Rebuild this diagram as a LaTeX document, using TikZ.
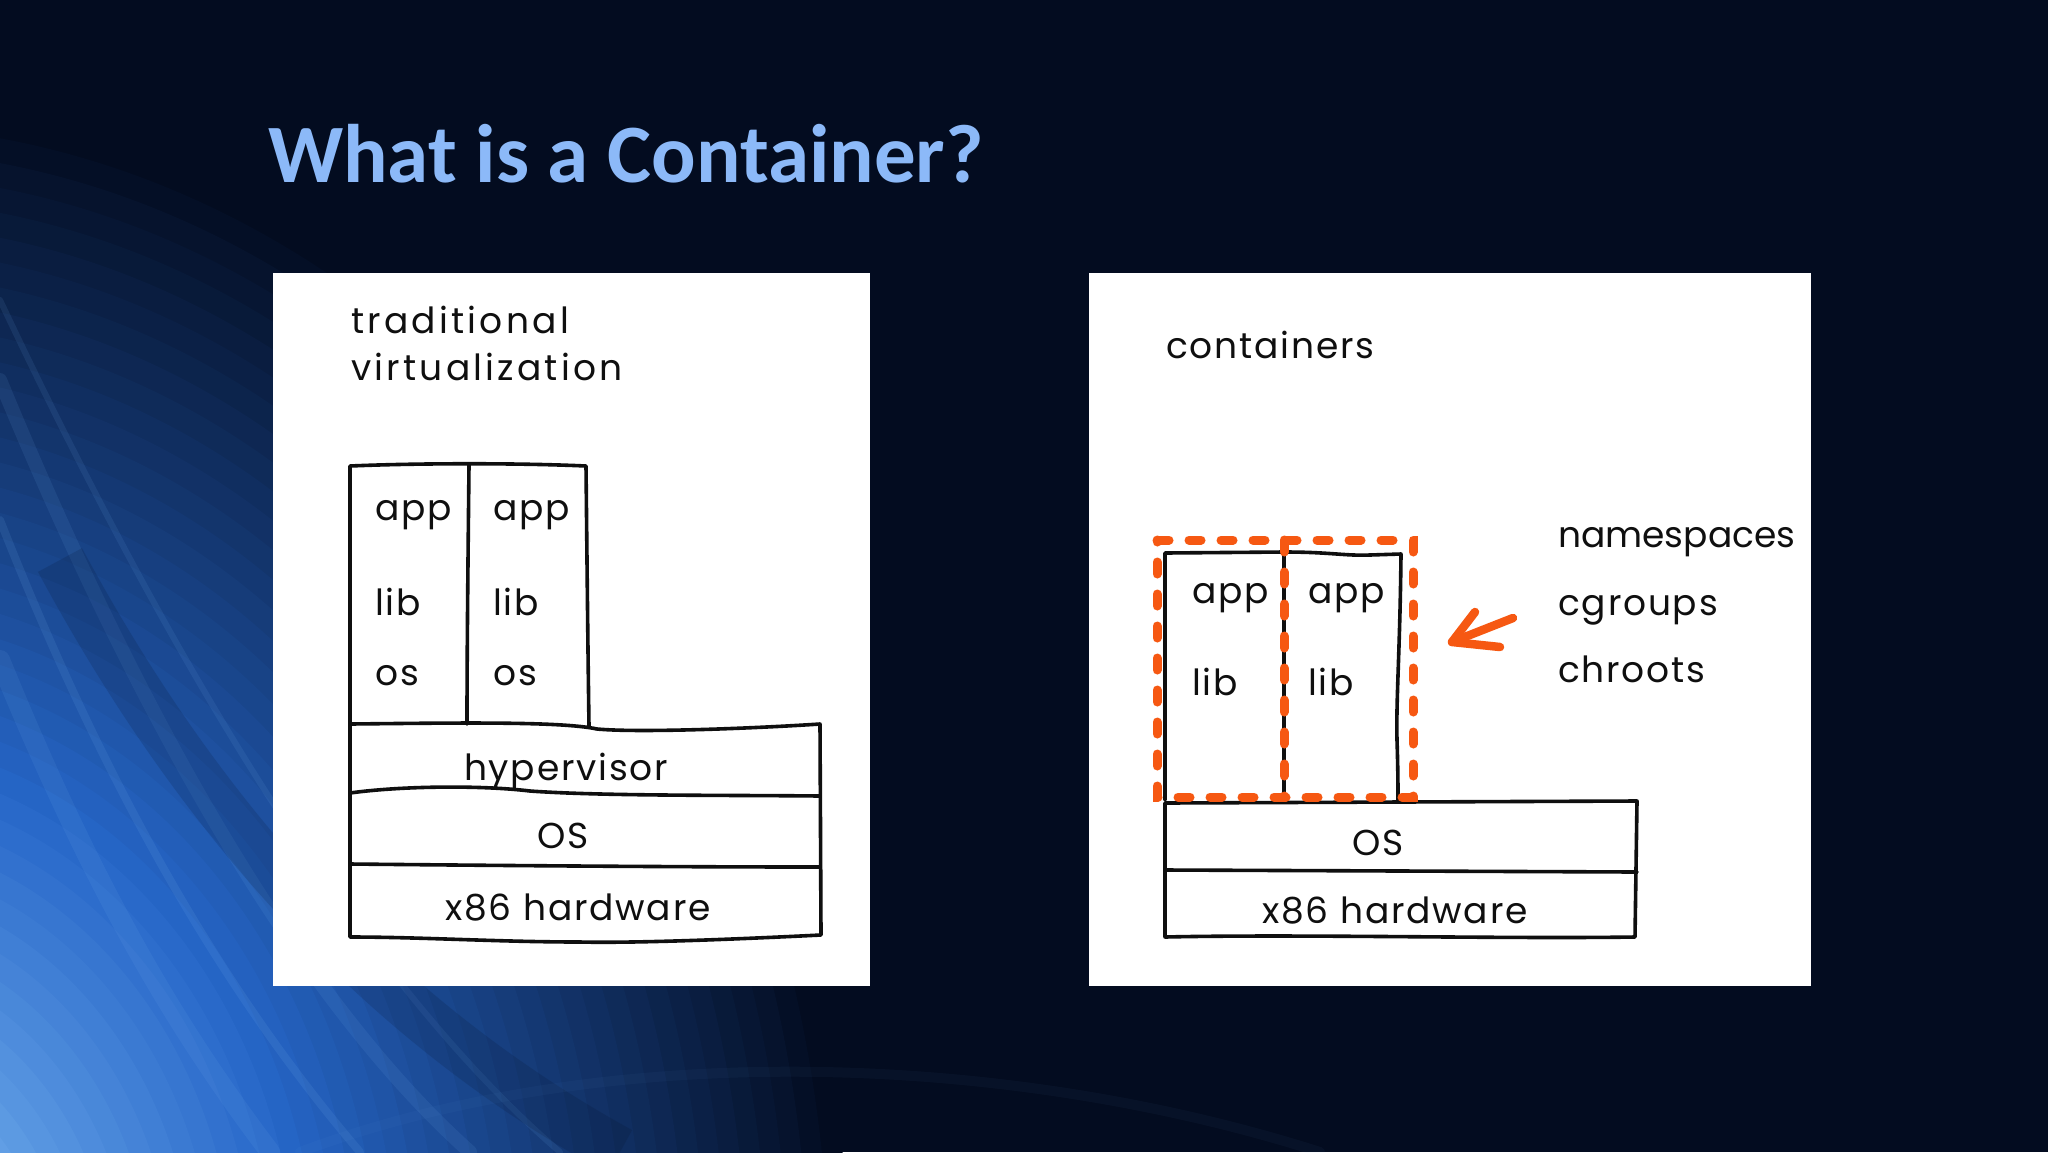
\documentclass[tikz,border=0pt]{standalone}
\usepackage{fontspec}
\setmainfont{Carlito}
\newfontfamily\hand{Poppins}[LetterSpace=5]
\newfontfamily\handwide{Poppins}[LetterSpace=9]
\newfontfamily\handtight{Poppins}
\definecolor{bg}{RGB}{3,12,32}
\definecolor{titleblue}{RGB}{140,185,248}
\definecolor{orng}{RGB}{246,88,18}
\definecolor{inkc}{RGB}{15,15,15}
\definecolor{gA}{RGB}{120,180,240}
\definecolor{gB}{RGB}{38,102,200}
\tikzset{
  ink/.style={draw=inkc, line width=3.6pt, line cap=round, line join=round},
  dashbox/.style={draw=orng, line width=9pt, line cap=round, dash pattern=on 12pt off 20pt},
  handtxt/.style={font=\hand\fontsize{36}{40}\selectfont, inner sep=0pt, text=inkc},
  handwidetxt/.style={handtxt, font=\handwide\fontsize{36}{40}\selectfont},
  handtighttxt/.style={handtxt, font=\handtight\fontsize{36}{40}\selectfont},
  arrowstroke/.style={draw=orng, line width=8.5pt, line cap=round, line join=round},
  panel/.style={fill=white},
  streak/.style={draw=gA, line cap=round}
}
\begin{document}
\begin{tikzpicture}[x=1pt,y=-1pt]
\useasboundingbox (0,0) rectangle (2048,1152);
% background
\fill[bg] (0,0) rectangle (2048,1152);
\begin{scope}
  \clip (0,0) rectangle (2048,1152);
  \foreach \i in {0,...,44}{
    \pgfmathsetmacro\t{\i/44}
    \pgfmathsetmacro\s{1-0.9*\t}
    \pgfmathsetmacro\rx{1000*\s}
    \pgfmathsetmacro\ry{1200*\s}
    \ifdim\t pt<0.6pt
      \pgfmathsetmacro\p{\t/0.6*100}
      \colorlet{ringc}{gB!\p!bg}
    \else
      \pgfmathsetmacro\p{(\t-0.6)/0.4*100}
      \colorlet{ringc}{gA!\p!gB}
    \fi
    \fill[ringc] (-150,1300) ellipse [x radius=\rx pt, y radius=\ry pt];
  }
  \draw[streak, line width=14pt, opacity=0.10] (0,380) .. controls (140,720) and (300,1000) .. (470,1152);
  \draw[streak, line width=8pt, opacity=0.12] (0,520) .. controls (110,800) and (230,1000) .. (360,1152);
  \draw[streak, line width=20pt, opacity=0.10] (0,660) .. controls (90,880) and (170,1020) .. (270,1152);
  \draw[streak, line width=6pt, opacity=0.10] (0,300) .. controls (170,660) and (360,980) .. (560,1152);
  \draw[draw=bg, line width=50pt, opacity=0.14] (60,560) .. controls (200,820) and (380,1020) .. (620,1152);
  \draw[streak, line width=10pt, opacity=0.04] (300,1152) .. controls (600,1040) and (1000,1050) .. (1320,1152);
\end{scope}

% title
\node[anchor=base west, inner sep=0pt, font=\bfseries\fontsize{83}{90}\selectfont, text=titleblue] (title) at (268,182) {What is a Container?};

% panels
\fill[panel] (273,273) rectangle (870,986);
\fill[panel] (1089,273) rectangle (1811,986);

% ===== left: traditional virtualization =====
\node[handwidetxt, anchor=base west] (trad1) at (351,333) {traditional};
\node[handwidetxt, anchor=base west] (trad2) at (351,380) {virtualization};

% VM columns
\draw[ink] (350,725) -- (350,466) .. controls (420,463) and (520,463) .. (586,466) .. controls (587,560) and (588,660) .. (589,726);
\draw[ink] (469,465) .. controls (468,560) and (467,650) .. (467,724);
% layers
\draw[ink] (350,724) .. controls (450,723) and (560,721) .. (597,729) .. controls (640,733) and (760,728) .. (820,724)
           -- (821,935) .. controls (700,941) and (620,943) .. (580,942) .. controls (500,942) and (420,937) .. (350,937) -- cycle;
\draw[ink] (350,793) .. controls (400,786) and (480,785) .. (530,791) .. controls (600,796) and (720,795) .. (820,796);
\draw[ink] (350,864) .. controls (450,865) and (650,867) .. (820,867);

\node[handtxt, anchor=base west] (appL1) at (375,520) {app};
\node[handtxt, anchor=base west] (appL2) at (493,520) {app};
\node[handtxt, anchor=base west] (libL1) at (375,615) {lib};
\node[handtxt, anchor=base west] (libL2) at (493,615) {lib};
\node[handtxt, anchor=base west] (osL1) at (375,685) {os};
\node[handtxt, anchor=base west] (osL2) at (493,685) {os};
\node[handtxt, anchor=base] (hypL) at (566,780) {hypervisor};
\node[handtxt, anchor=base] (osL) at (563,848) {OS};
\node[handtxt, anchor=base] (hwL) at (578,920) {x86 hardware};

% ===== right: containers =====
\node[handtxt, anchor=base west] (cont) at (1166,358) {containers};

% container boxes
\draw[ink] (1165,800) -- (1165,553) -- (1284,552) .. controls (1330,552) and (1345,556) .. (1370,555) -- (1401,554)
           .. controls (1400,650) and (1396,700) .. (1397,740) .. controls (1398,770) and (1398,790) .. (1398,800);
\draw[ink] (1284,552) -- (1284,800);
% OS + hardware layers
\draw[ink] (1165,803) -- (1637,801) -- (1635,937) .. controls (1500,939) and (1300,934) .. (1165,937) -- cycle;
\draw[ink] (1165,870) -- (1637,872);

% orange dashed outline
\draw[dashbox] (1157,540) -- (1413,540) -- (1413,797) -- (1157,797) -- cycle;
\draw[dashbox] (1284,540) -- (1284,797);

\node[handtxt, anchor=base west] (appR1) at (1192,603) {app};
\node[handtxt, anchor=base west] (appR2) at (1308,603) {app};
\node[handtxt, anchor=base west] (libR1) at (1192,695) {lib};
\node[handtxt, anchor=base west] (libR2) at (1308,695) {lib};
\node[handtxt, anchor=base] (osR) at (1378,855) {OS};
\node[handtxt, anchor=base] (hwR) at (1395,923) {x86 hardware};

\node[handtighttxt, anchor=base west] (ns) at (1558,547) {namespaces};
\node[handtxt, anchor=base west] (cg) at (1558,615) {cgroups};
\node[handtxt, anchor=base west] (ch) at (1558,682) {chroots};

% arrow
\coordinate (arrtail) at (1513,618);
\coordinate (arrtip) at (1452,642);
\coordinate (barbA) at (1475,612);
\coordinate (barbB) at (1500,647);
\draw[arrowstroke] (arrtail) -- (arrtip);
\draw[arrowstroke] (barbA) -- (arrtip) -- (barbB);
\end{tikzpicture}
\end{document}
